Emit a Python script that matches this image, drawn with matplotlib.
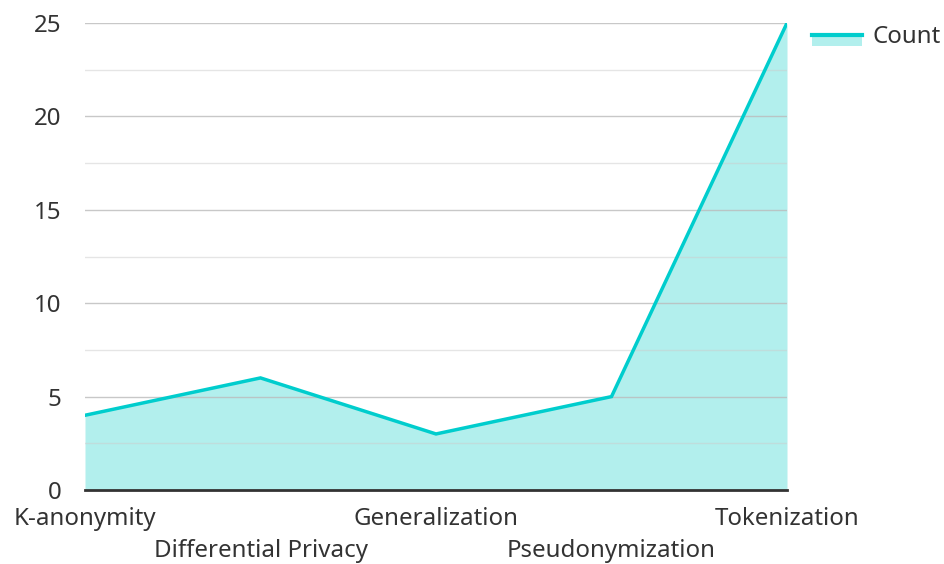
import matplotlib
matplotlib.use("Agg")
import matplotlib.pyplot as plt
from matplotlib.patches import Patch
from matplotlib.lines import Line2D
from matplotlib.legend_handler import HandlerBase

plt.rcParams['font.family'] = ['Noto Sans', 'DejaVu Sans']

categories = ["K-anonymity", "Differential Privacy", "Generalization", "Pseudonymization", "Tokenization"]
counts = [4, 6, 3, 5, 25]
yticks = [0, 5, 10, 15, 20, 25]

line_color = "#00CDCD"
fill_color = "#B2EFED"
text_color = "#333333"
fs = 17.3

fig = plt.figure(figsize=(9.45, 5.64), dpi=100)
ax = fig.add_axes([85/945, 1-490/564, (787-85)/945, (490-23)/564])

x = list(range(len(categories)))
ax.fill_between(x, counts, 0, color=fill_color, zorder=1, linewidth=0)
ax.plot(x, counts, color=line_color, linewidth=2.5, zorder=3, solid_joinstyle='miter')

ax.set_xlim(0, len(categories) - 1)
ax.set_ylim(0, 25)
ax.set_yticks(yticks)
ax.set_yticks([2.5, 7.5, 12.5, 17.5, 22.5], minor=True)
ax.grid(axis='y', which='major', color='#bbbbbb', linewidth=1, alpha=0.8, zorder=2)
ax.grid(axis='y', which='minor', color='#cccccc', linewidth=1, alpha=0.5, zorder=2)
ax.set_axisbelow(False)
for s in ['top', 'right', 'left']:
    ax.spines[s].set_visible(False)
ax.spines['bottom'].set_color('#333333')
ax.spines['bottom'].set_linewidth(2)
ax.spines['bottom'].set_zorder(4)

ax.tick_params(axis='y', which='both', length=0, labelsize=fs, labelcolor=text_color, pad=17)
ax.tick_params(axis='x', length=0, labelsize=fs, labelcolor=text_color)
ax.set_xticks(x)
ax.set_xticklabels([])
for i, c in enumerate(categories):
    yoff = -29 if i % 2 == 0 else -61
    ax.annotate(c, xy=(i, 0), xycoords='data', xytext=(0, yoff), textcoords='offset pixels',
                ha='center', va='center', fontsize=fs, color=text_color, annotation_clip=False)

class AreaHandler(HandlerBase):
    def create_artists(self, legend, orig_handle, xdescent, ydescent, width, height, fontsize, trans):
        p = plt.Rectangle((-xdescent, -ydescent), width, height * 0.5, color=fill_color, transform=trans, linewidth=0)
        l = Line2D([-xdescent, -xdescent + width], [-ydescent + height * 0.5] * 2, color=line_color, linewidth=3, transform=trans)
        return [p, l]

handle = Patch(color=fill_color)
leg = fig.legend([handle], ["Count"], handler_map={Patch: AreaHandler()},
                 loc='upper left', bbox_to_anchor=(812/945, 1-24/564), frameon=False,
                 fontsize=fs, handlelength=2.1, handleheight=1.0, handletextpad=0.42, borderaxespad=0,
                 borderpad=0)
for t in leg.get_texts():
    t.set_color(text_color)

fig.savefig("out.png", dpi=100)
